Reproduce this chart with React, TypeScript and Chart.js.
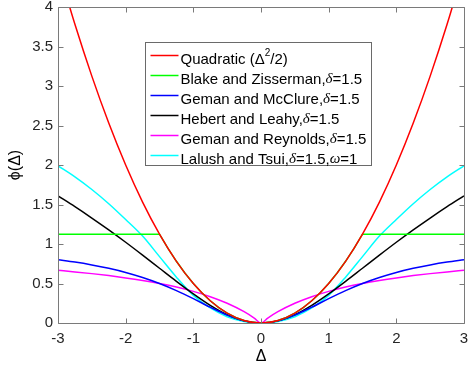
import React, { useEffect, useRef } from "react";
import { Chart, registerables } from "chart.js";

Chart.register(...registerables);

// ---- data ----
const xValues = [-3, -2.75, -2.5, -2.25, -2, -1.75, -1.5, -1.25, -1, -0.75, -0.5, -0.25, 0, 0.25, 0.5, 0.75, 1, 1.25, 1.5, 1.75, 2, 2.25, 2.5, 2.75, 3];

const quadratic = [4.5, 3.781, 3.125, 2.531, 2, 1.531, 1.125, 0.781, 0.5, 0.281, 0.125, 0.031, 0, 0.031, 0.125, 0.281, 0.5, 0.781, 1.125, 1.531, 2, 2.531, 3.125, 3.781, 4.5];

const xValuesBZ = [-3, -1.5, -1.375, -1.25, -1.125, -1, -0.875, -0.75, -0.625, -0.5, -0.375, -0.25, -0.125, 0, 0.125, 0.25, 0.375, 0.5, 0.625, 0.75, 0.875, 1, 1.125, 1.25, 1.375, 1.5, 3];
const blakeZisserman = [1.125, 1.125, 0.945, 0.781, 0.633, 0.5, 0.383, 0.281, 0.195, 0.125, 0.07, 0.031, 0.008, 0, 0.008, 0.031, 0.07, 0.125, 0.195, 0.281, 0.383, 0.5, 0.633, 0.781, 0.945, 1.125, 1.125];

const gemanMcClure = [0.8, 0.771, 0.735, 0.692, 0.64, 0.576, 0.5, 0.41, 0.308, 0.2, 0.1, 0.027, 0, 0.027, 0.1, 0.2, 0.308, 0.41, 0.5, 0.576, 0.64, 0.692, 0.735, 0.771, 0.8];

const hebertLeahy = [1.609, 1.473, 1.329, 1.179, 1.022, 0.859, 0.693, 0.527, 0.368, 0.223, 0.105, 0.027, 0, 0.027, 0.105, 0.223, 0.368, 0.527, 0.693, 0.859, 1.022, 1.179, 1.329, 1.473, 1.609];

const xValuesGR = [-3, -2.75, -2.5, -2.25, -2, -1.75, -1.5, -1.25, -1, -0.75, -0.5, -0.25, -0.1, 0, 0.1, 0.25, 0.5, 0.75, 1, 1.25, 1.5, 1.75, 2, 2.25, 2.5, 2.75, 3];
const gemanReynolds = [0.667, 0.647, 0.625, 0.6, 0.571, 0.538, 0.5, 0.455, 0.4, 0.333, 0.25, 0.143, 0.0625, 0, 0.0625, 0.143, 0.25, 0.333, 0.4, 0.455, 0.5, 0.538, 0.571, 0.6, 0.625, 0.647, 0.667];

const lalushTsui = [1.99, 1.85, 1.69, 1.51, 1.31, 1.1, 0.84, 0.58, 0.35, 0.19, 0.08, 0.02, 0, 0.02, 0.08, 0.19, 0.35, 0.58, 0.84, 1.1, 1.31, 1.51, 1.69, 1.85, 1.99];

const seriesLabels = [
  "Quadratic (Δ²/2)",
  "Blake and Zisserman,δ=1.5",
  "Geman and McClure,δ=1.5",
  "Hebert and Leahy,δ=1.5",
  "Geman and Reynolds,δ=1.5",
  "Lalush and Tsui,δ=1.5,ω=1",
];

// rich legend text: [text, style] where style n = normal, i = italic, sup = superscript
const legendRich: [string, string][][] = [
  [["Quadratic (Δ", "n"], ["2", "sup"], ["/2)", "n"]],
  [["Blake and Zisserman,", "n"], ["δ", "i"], ["=1.5", "n"]],
  [["Geman and McClure,", "n"], ["δ", "i"], ["=1.5", "n"]],
  [["Hebert and Leahy,", "n"], ["δ", "i"], ["=1.5", "n"]],
  [["Geman and Reynolds,", "n"], ["δ", "i"], ["=1.5", "n"]],
  [["Lalush and Tsui,", "n"], ["δ", "i"], ["=1.5,", "n"], ["ω", "i"], ["=1", "n"]],
];

const xTitle = "Δ";
const yTitle = "ϕ(Δ)";

const seriesColors = ["#ff0000", "#00ff00", "#0000ff", "#000000", "#ff00ff", "#00ffff"];

const FONT = '"Liberation Sans", Arial, Helvetica, sans-serif';

function pts(xs: number[], ys: number[]) {
  return xs.map((x, i) => ({ x, y: ys[i] }));
}

const framePlugin = {
  id: "matlabFrame",
  afterDraw(chart: any) {
    const { ctx, chartArea: a, scales } = chart;
    ctx.save();
    const L = Math.round(a.left) + 0.5;
    const R = Math.round(a.right) + 0.5;
    const T = Math.round(a.top) + 0.5;
    const B = Math.round(a.bottom) + 0.5;
    ctx.strokeStyle = "#7a7a7a";
    ctx.lineWidth = 1;
    ctx.beginPath();
    ctx.rect(L, T, R - L, B - T);
    ctx.stroke();
    const tl = 5;
    ctx.beginPath();
    scales.x.ticks.forEach((t: any) => {
      const px = Math.round(scales.x.getPixelForValue(t.value)) + 0.5;
      ctx.moveTo(px, B);
      ctx.lineTo(px, B - tl);
      ctx.moveTo(px, T);
      ctx.lineTo(px, T + tl);
    });
    scales.y.ticks.forEach((t: any) => {
      const py = Math.round(scales.y.getPixelForValue(t.value)) + 0.5;
      ctx.moveTo(L, py);
      ctx.lineTo(L + tl, py);
      ctx.moveTo(R, py);
      ctx.lineTo(R - tl, py);
    });
    ctx.stroke();

    // legend box
    const bx = Math.round(a.left) + 87 + 0.5;
    const by = Math.round(a.top) + 35 + 0.5;
    const bw = 226;
    const bh = 123;
    ctx.fillStyle = "#ffffff";
    ctx.fillRect(bx, by, bw, bh);
    ctx.strokeStyle = "#6a6a6a";
    ctx.strokeRect(bx, by, bw, bh);
    ctx.textBaseline = "middle";
    ctx.textAlign = "left";
    legendRich.forEach((parts, i) => {
      const yy = by + 13 + i * 20;
      ctx.strokeStyle = seriesColors[i];
      ctx.lineWidth = 1.5;
      ctx.beginPath();
      ctx.moveTo(bx + 5, yy);
      ctx.lineTo(bx + 33, yy);
      ctx.stroke();
      let tx = bx + 35;
      const ty = yy + 4;
      ctx.fillStyle = "#000000";
      parts.forEach(([txt, st]) => {
        if (st === "sup") {
          ctx.font = `10px ${FONT}`;
          ctx.fillText(txt, tx, ty - 6);
        } else if (st === "i") {
          ctx.font = `italic 15px "Liberation Serif", "DejaVu Serif", serif`;
          ctx.fillText(txt, tx, ty);
        } else {
          ctx.font = `15px ${FONT}`;
          ctx.fillText(txt, tx, ty);
        }
        tx += ctx.measureText(txt).width;
      });
    });
    ctx.restore();
  },
};

export default function App() {
  const ref = useRef<HTMLCanvasElement | null>(null);
  useEffect(() => {
    document.body.style.margin = "0";
    const canvas = ref.current;
    if (!canvas) return;
    const line = (label: string, data: any, color: string, extra: any = {}) => ({
      label,
      data,
      borderColor: color,
      backgroundColor: color,
      borderWidth: 1.5,
      pointRadius: 0,
      fill: false,
      cubicInterpolationMode: "monotone",
      ...extra,
    });
    const chart = new Chart(canvas, {
      type: "line",
      data: {
        datasets: [
          line(seriesLabels[0], pts(xValues, quadratic), seriesColors[0]),
          line(seriesLabels[1], pts(xValuesBZ, blakeZisserman), seriesColors[1], { cubicInterpolationMode: "default", tension: 0 }),
          line(seriesLabels[2], pts(xValues, gemanMcClure), seriesColors[2]),
          line(seriesLabels[3], pts(xValues, hebertLeahy), seriesColors[3]),
          line(seriesLabels[4], pts(xValuesGR, gemanReynolds), seriesColors[4]),
          line(seriesLabels[5], pts(xValues, lalushTsui), seriesColors[5]),
        ] as any,
      },
      options: {
        animation: false,
        responsive: false,
        devicePixelRatio: 1,
        layout: { padding: { top: 7, right: 10, left: 0, bottom: 0 } },
        plugins: { legend: { display: false }, tooltip: { enabled: false } },
        scales: {
          x: {
            type: "linear",
            min: -3,
            max: 3,
            grid: { display: false, drawTicks: false },
            border: { display: false },
            ticks: { stepSize: 1, color: "#262626", padding: 7, font: { size: 15, family: FONT } },
            title: { display: true, text: xTitle, color: "#000", font: { size: 16, family: FONT }, padding: { top: 5, bottom: 5 } },
            afterFit: (s: any) => { s.height = 48; s.paddingLeft = 0; s.paddingRight = 0; },
          },
          y: {
            type: "linear",
            min: 0,
            max: 4,
            grid: { display: false, drawTicks: false },
            border: { display: false },
            ticks: {
              stepSize: 0.5,
              color: "#262626",
              padding: 5,
              font: { size: 15, family: FONT },
              callback: (v: any) => String(Number(v)),
            },
            title: { display: true, text: yTitle, color: "#000", font: { size: 16, family: FONT }, padding: { top: 6, bottom: 6 } },
            afterFit: (s: any) => { s.width = 58; s.paddingTop = 0; s.paddingBottom = 0; },
          },
        },
      } as any,
      plugins: [framePlugin],
    });
    return () => chart.destroy();
  }, []);
  return (
    <div style={{ width: 474, height: 371, background: "#fff" }}>
      <canvas ref={ref} width={474} height={371} style={{ display: "block" }} />
    </div>
  );
}
